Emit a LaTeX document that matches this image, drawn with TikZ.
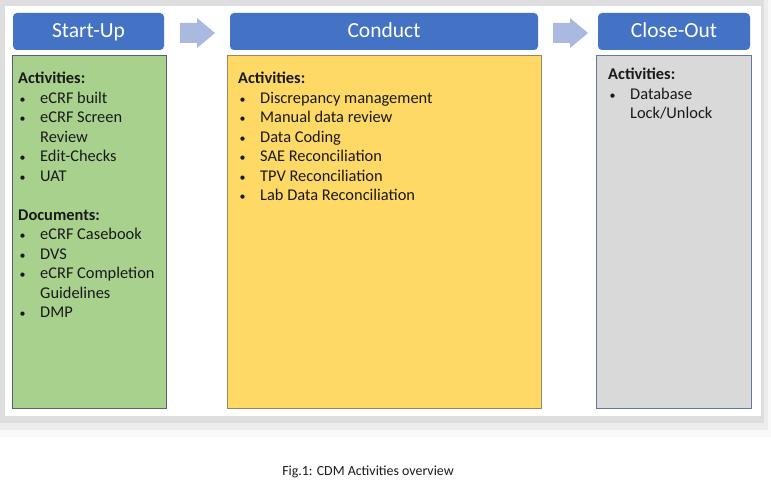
\documentclass[tikz,border=0pt]{standalone}
\usepackage{fontspec}
\setmainfont{Carlito}
\definecolor{hdblue}{HTML}{4472C4}
\definecolor{arrblue}{HTML}{AAB9E0}
\definecolor{grfill}{HTML}{A9D18E}
\definecolor{grline}{HTML}{56626E}
\definecolor{yefill}{HTML}{FFD966}
\definecolor{yeline}{HTML}{958866}
\definecolor{gyfill}{HTML}{D9D9D9}
\definecolor{gyline}{HTML}{6676A0}
\newcommand{\itm}{\hspace*{1.5pt}\makebox[20.5pt][l]{\fontsize{12}{12}\selectfont\textbullet}}
\newcommand{\cont}{\hspace*{22pt}}
\begin{document}
\begin{tikzpicture}[x=1pt, y=-1pt,
    head/.style={rectangle, rounded corners=4pt, fill=hdblue, text=white, text height=15.5pt, text depth=2.5pt, font=\fontsize{21.5}{24}\selectfont},
    phase/.style={rectangle, draw, line width=1pt},
    list/.style={anchor=north west, inner sep=0pt, align=left, text=black!90, font=\fontsize{16.4}{19.5}\selectfont},
    flow/.style={fill=arrblue}
]
\useasboundingbox (0,0) rectangle (771,484);

% panel with shadow
\fill[gray!5] (0,0) rectangle (771,437);
\fill[gray!14] (0,0) rectangle (768,430);
\fill[gray!26] (0,0) rectangle (764,423);
\fill[white] (5,6) rectangle (761,416);

% headers
\node[head, minimum width=151pt, minimum height=37pt] (startup) at (88.5,31.5) {Start-Up};
\node[head, minimum width=308pt, minimum height=37pt] (conduct) at (384,31.5) {Conduct};
\node[head, minimum width=152pt, minimum height=37pt] (closeout) at (674,31.5) {Close-Out};

% arrows between phases
\coordinate (a1) at (180,23);
\coordinate (a2) at (553,23);
\foreach \a in {a1,a2}
  \fill[flow] (\a) -- ++(17,0) -- ++(0,-5) -- ++(18,15) -- ++(-18,15) -- ++(0,-5) -- ++(-17,0) -- cycle;

% phase boxes
\node[phase, draw=grline, fill=grfill, minimum width=154pt, minimum height=352pt] (sbox) at (89,232) {};
\node[phase, draw=yeline, fill=yefill, minimum width=314pt, minimum height=352pt] (cbox) at (384,232) {};
\node[phase, draw=gyline, fill=gyfill, minimum width=155pt, minimum height=352pt] (obox) at (673.5,232) {};

% contents
\node[list] (slist) at (18,72) {\textbf{Activities:}\\
\itm eCRF built\\
\itm eCRF Screen\\
\cont Review\\
\itm Edit-Checks\\
\itm UAT\\[19.5pt]
\textbf{Documents:}\\
\itm eCRF Casebook\\
\itm DVS\\
\itm eCRF Completion\\
\cont Guidelines\\
\itm DMP};

\node[list] (clist) at (238,72) {\textbf{Activities:}\\
\itm Discrepancy management\\
\itm Manual data review\\
\itm Data Coding\\
\itm SAE Reconciliation\\
\itm TPV Reconciliation\\
\itm Lab Data Reconciliation};

\node[list] (olist) at (608,68) {\textbf{Activities:}\\
\itm Database\\
\cont Lock/Unlock};

% caption
\node[font=\fontsize{13.9}{16}\selectfont, text=black!90] (caption) at (368,472) {Fig.1: CDM Activities overview};

\end{tikzpicture}
\end{document}
